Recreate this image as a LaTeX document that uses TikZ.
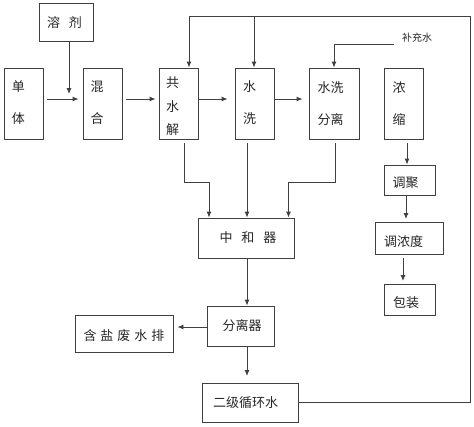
\documentclass[tikz,border=0pt]{standalone}
\usepackage{fontspec}
\newfontfamily\cjk{Noto Sans CJK SC}
\usetikzlibrary{arrows.meta,calc}
\tikzset{
  box/.style={draw=black!75,line width=0.9pt,inner sep=0pt,fill=white},
  txt/.style={inner sep=0pt,font=\cjk\fontsize{13}{32}\selectfont,align=center,text=black!85},
  ln/.style={draw=black!75,line width=0.9pt},
  arr/.style={ln,-{Latex[length=6pt,width=5pt]}}
}
\begin{document}
\begin{tikzpicture}[x=1pt,y=-1pt]
\useasboundingbox (0,0) rectangle (474,426);
% boxes
\node[box,minimum width=54pt,minimum height=38pt] (rj) at (66,22) {};
\node[box,minimum width=39pt,minimum height=71pt] (dt) at (23.5,103.5) {};
\node[box,minimum width=39pt,minimum height=71pt] (hh) at (102.5,103.5) {};
\node[box,minimum width=39pt,minimum height=71pt] (gs) at (178.5,103.5) {};
\node[box,minimum width=39pt,minimum height=71pt] (sx) at (254.5,103.5) {};
\node[box,minimum width=50pt,minimum height=71pt] (sf) at (334,103.5) {};
\node[box,minimum width=39pt,minimum height=71pt] (ns) at (403.5,103.5) {};
\node[box,minimum width=51pt,minimum height=30pt] (tj) at (409.5,180) {};
\node[box,minimum width=68pt,minimum height=32pt] (tn) at (409,238) {};
\node[box,minimum width=51pt,minimum height=31pt] (bz) at (409.5,299.5) {};
\node[box,minimum width=96pt,minimum height=40pt] (zh) at (246,238) {};
\node[box,minimum width=67pt,minimum height=40pt] (fl) at (240.5,326) {};
\node[box,minimum width=98pt,minimum height=37pt] (fs) at (124,333.5) {};
\node[box,minimum width=96pt,minimum height=39pt] (ej) at (250,402.5) {};
% texts
\node[txt] at (64.5,23) {溶\hspace{9pt}剂};
\node[txt] at (18.5,103) {单\\体};
\node[txt] at (97,103) {混\\合};
\node[txt,font=\cjk\fontsize{13}{23.5}\selectfont] at (172.5,106.5) {共\\水\\解};
\node[txt] at (249.5,103) {水\\洗};
\node[txt] at (330.5,103.5) {水洗\\分离};
\node[txt] at (399,103.5) {浓\\缩};
\node[txt] at (405.5,183) {调聚};
\node[txt] at (403.5,242) {调浓度};
\node[txt] at (406,303) {包装};
\node[txt] at (248,238) {中\hspace{9pt}和\hspace{9pt}器};
\node[txt] at (242,326) {分离器};
\node[txt] at (124,336) {含\hspace{4pt}盐\hspace{4pt}废\hspace{4pt}水\hspace{4pt}排};
\node[txt] at (245.5,403) {二级循环水};
\node[txt,font=\cjk\fontsize{10}{12}\selectfont] (bcs) at (417,38) {补充水};
% connectors
\coordinate (jn) at (69,99);
\draw[arr] ($(dt.east)+(4,-4.5)$) -- ($(hh.west)+(-4,-4.5)$);
\draw[arr] (rj.south -| jn) -- ($(jn)+(0,-5)$);
\draw[arr] ($(hh.east)+(4,-4.5)$) -- ($(gs.west)+(-3,-4.5)$);
\draw[arr] ($(gs.east)+(1,-4.5)$) -- ($(sx.west)+(-7,-4.5)$);
\draw[arr] ($(sx.east)+(1,-4.5)$) -- ($(sf.west)+(-6,-4.5)$);
\coordinate (tr) at (470,16);
\draw[ln] (ej.east) -- (ej.east -| tr) -- (tr) -- (189,16);
\draw[arr] (189,16) -- (gs.north -| 189,0);
\draw[arr] (254,16) -- (sx.north -| 254,0);
\draw[arr] (394,44) -- (334,44) -- (sf.north);
\draw[arr] ($(gs.south)+(5.5,4)$) -- (184,182) -- (209,182) -- (zh.north -| 209,0);
\draw[arr] ($(sx.south)+(-7.5,4)$) -- (zh.north -| 247,0);
\draw[arr] ($(sf.south)+(1,4)$) -- (335,182) -- (288.5,182) -- (zh.north -| 288.5,0);
\draw[arr] (zh.south -| fl.north) ++(6.5,0) -- ($(fl.north)+(6.5,0)$);
\draw[arr] ($(fl.west)+(0,1)$) -- ($(fs.east)+(4,-6.5)$);
\draw[arr] (fl.south -| 247,0) -- (247,376);
\draw[arr] ($(ns.south)+(3.5,4)$) -- (tj.north -| 407,0);
\draw[arr] (tj.south -| 406,0) -- (406,219);
\draw[arr] ($(tn.south)+(-6,4)$) -- (403,281);
\end{tikzpicture}
\end{document}
